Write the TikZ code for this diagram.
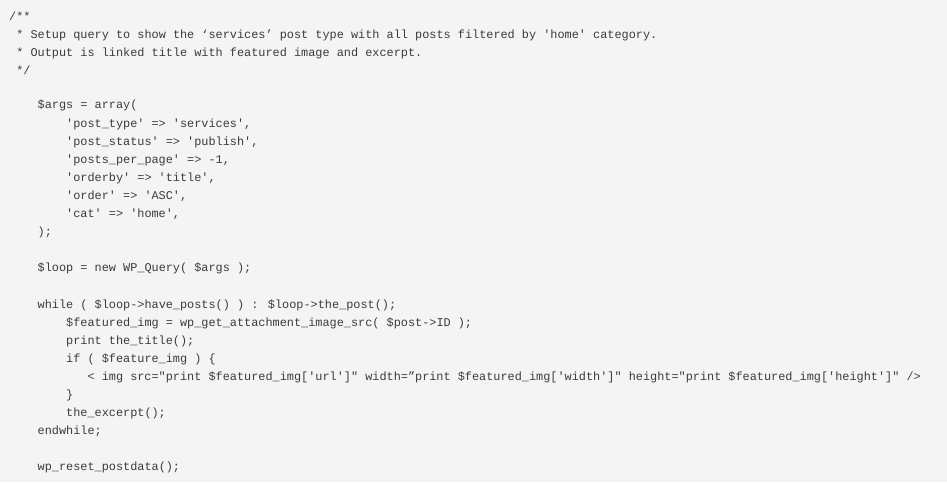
\documentclass[tikz,border=0pt]{standalone}
\usepackage{fontspec}
\newfontfamily\codefont{Liberation Mono}
\definecolor{codebg}{HTML}{F4F4F4}
\definecolor{codefg}{HTML}{3C3C3C}
\tikzset{
  code/.style={anchor=west, inner sep=0pt, text=codefg,
    font=\codefont\fontsize{11.87}{14}\selectfont},
}
\newcommand{\ind}[1]{9+#1*7.12}

\begin{document}
\begin{tikzpicture}[x=1pt,y=-1pt]
    \fill[codebg] (0,0) rectangle (947,482);
    \useasboundingbox (0,0) rectangle (947,482);
    % comment block
    \node[code] (c1) at (\ind{0},16) {/**};
    \node[code] (c2) at (\ind{1},35) {* Setup query to show the ‘services’ post type with all posts filtered by 'home' category.};
    \node[code] (c3) at (\ind{1},53) {* Output is linked title with featured image and excerpt.};
    \node[code] (c4) at (\ind{1},70) {*/};
    % args
    \node[code] (a0) at (\ind{4},105) {\$args = array(};
    \node[code] (a1) at (\ind{8},124) {'post\_type' => 'services',};
    \node[code] (a2) at (\ind{8},142) {'post\_status' => 'publish',};
    \node[code] (a3) at (\ind{8},160) {'posts\_per\_page' => -1,};
    \node[code] (a4) at (\ind{8},178) {'orderby' => 'title',};
    \node[code] (a5) at (\ind{8},196) {'order' => 'ASC',};
    \node[code] (a6) at (\ind{8},214) {'cat' => 'home',};
    \node[code] (a7) at (\ind{4},232) {);};
    % query
    \node[code] (q) at (\ind{4},268) {\$loop = new WP\_Query( \$args );};
    % loop
    \node[code] (w0) at (\ind{4},305) {while ( \$loop->have\_posts() ) : \$loop->the\_post();};
    \node[code] (w1) at (\ind{8},323) {\$featured\_img = wp\_get\_attachment\_image\_src( \$post->ID );};
    \node[code] (w2) at (\ind{8},341) {print the\_title();};
    \node[code] (w3) at (\ind{8},359) {if ( \$feature\_img ) \{};
    \node[code] (w4) at (\ind{11},377) {< img src="print \$featured\_img['url']" width=”print \$featured\_img['width']" height="print \$featured\_img['height']" />};
    \node[code] (w5) at (\ind{8},395) {\}};
    \node[code] (w6) at (\ind{8},413) {the\_excerpt();};
    \node[code] (w7) at (\ind{4},431) {endwhile;};
    \node[code] (r) at (\ind{4},467) {wp\_reset\_postdata();};
\end{tikzpicture}
\end{document}
